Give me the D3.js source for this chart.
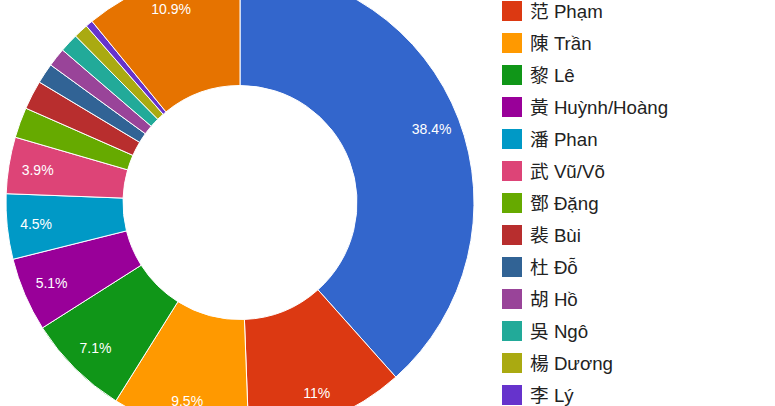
<!DOCTYPE html>
<html><head><meta charset="utf-8">
<script src="https://cdn.jsdelivr.net/npm/d3@7/dist/d3.min.js"></script>
<style>
html,body{margin:0;padding:0;background:#fff;overflow:hidden;}
svg{display:block;}
</style></head>
<body>
<svg id="chart" width="775" height="406"></svg>
<script>
const hanzi = ["阮","范","陳","黎","黃","潘","武","鄧","裴","杜","胡","吳","楊","李","其他"];
const names = ["Nguyễn","Phạm","Trần","Lê","Huỳnh/Hoàng","Phan","Vũ/Võ","Đặng","Bùi","Đỗ","Hồ","Ngô","Dương","Lý","Khác"];
const values = [38.4, 11, 9.5, 7.1, 5.1, 4.5, 3.9, 2.1, 2.0, 1.4, 1.3, 1.3, 1.0, 0.5, 10.9];
const labels = ["38.4%","11%","9.5%","7.1%","5.1%","4.5%","3.9%","","","","","","","","10.9%"];
const colors = ["#3366cc","#dc3912","#ff9900","#109618","#990099","#0099c6","#dd4477","#66aa00","#b82e2e","#316395","#994499","#22aa99","#aaaa11","#6633cc","#e67300"];

const data = values.map((v,i)=>({v, i}));
const svg = d3.select("#chart");
const cx = 240, cy = 202.5, R = 234, r0 = 117;
const font = "'Liberation Sans', Arial, 'Noto Sans CJK TC', sans-serif";

const pie = d3.pie().sort(null).value(d=>d.v);
const arc = d3.arc().innerRadius(r0).outerRadius(R);
const labelArc = d3.arc().innerRadius(205).outerRadius(205);
const color = d3.scaleOrdinal().domain(d3.range(values.length)).range(colors);

const g = svg.append("g").attr("transform", `translate(${cx},${cy})`);
const arcs = pie(data);
g.selectAll("path").data(arcs).join("path")
  .attr("d", arc)
  .attr("fill", d=>color(d.data.i))
  .attr("stroke", "#fff")
  .attr("stroke-width", 1);

g.selectAll("text").data(arcs.filter(d=>labels[d.data.i])).join("text")
  .attr("transform", d=>`translate(${labelArc.centroid(d)})`)
  .attr("text-anchor","middle")
  .attr("dominant-baseline","central")
  .attr("fill","#fff")
  .style("font-family", font)
  .style("font-size","14px")
  .text(d=>labels[d.data.i]);

// legend
const y = d3.scaleLinear().domain([0,1]).range([-21, 11]);
const lg = svg.append("g");
const items = lg.selectAll("g").data(names).join("g")
  .attr("transform", (d,i)=>`translate(0,${y(i)})`);
items.append("rect")
  .attr("x", 502).attr("y", -10).attr("width", 20).attr("height", 20)
  .attr("fill", (d,i)=>color(i));
items.append("text")
  .attr("x", 530).attr("y", 0)
  .attr("dominant-baseline","central")
  .attr("fill","#222")
  .style("font-family", font)
  .style("font-size","18.7px")
  .text((d,i)=>hanzi[i] + " " + d);
</script>
</body></html>
